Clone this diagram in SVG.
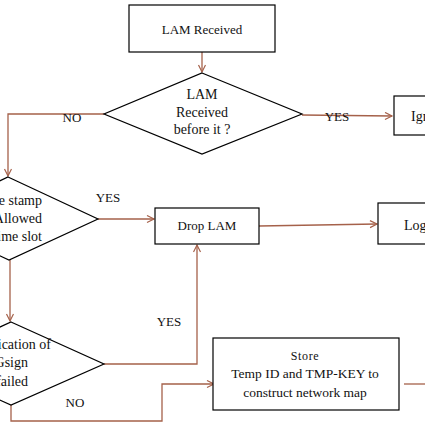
<svg xmlns="http://www.w3.org/2000/svg" width="425" height="425" viewBox="0 0 425 425">
<defs>
<style>
.box{fill:#fff;stroke:#000;stroke-width:1.2}
.dia{fill:#fff;stroke:#000;stroke-width:1.2}
.con{fill:none;stroke:#a5614a;stroke-width:1.3}
text{font-family:"Liberation Serif","DejaVu Serif",serif;font-size:13px;fill:#111}
.c{text-anchor:middle}
.e{text-anchor:end}
.d{font-size:14px}
</style>
<marker id="arr" markerWidth="10" markerHeight="10" refX="8" refY="4" orient="auto" markerUnits="userSpaceOnUse">
<path d="M1,0.5 L8,4 L1,7.5" fill="none" stroke="#a5614a" stroke-width="1.2"/>
</marker>
</defs>
<rect width="425" height="425" fill="#fff"/>
<g id="connectors">
<line class="con" x1="202" y1="52" x2="202" y2="72" marker-end="url(#arr)"/>
<line class="con" x1="302" y1="115" x2="392" y2="116" marker-end="url(#arr)"/>
<polyline class="con" points="104,114 8,114 8,176" marker-end="url(#arr)"/>
<line class="con" x1="98" y1="219" x2="154" y2="219" marker-end="url(#arr)"/>
<line class="con" x1="259" y1="226" x2="377" y2="224" marker-end="url(#arr)"/>
<line class="con" x1="10" y1="260" x2="10" y2="321" marker-end="url(#arr)"/>
<polyline class="con" points="104,364 197,364 197,245" marker-end="url(#arr)"/>
<polyline class="con" points="11,405 11,421 162,421 162,384 214,384" marker-end="url(#arr)"/>
<line class="con" x1="404" y1="384" x2="425" y2="384"/>
</g>
<g id="n-lam-received">
<rect class="box" x="129" y="5" width="146" height="47"/>
<text class="c" x="202" y="34">LAM Received</text>
</g>
<g id="n-received-before">
<polygon class="dia" points="202,73 302,114 202,154 104,114"/>
<text class="c d" x="202" y="99">LAM</text>
<text class="c d" x="202" y="117">Received</text>
<text class="c d" x="202" y="134">before it ?</text>
</g>
<g id="n-ignore">
<rect class="box" x="394" y="96" width="40" height="39"/>
<text class="d" x="411" y="121">Ignore</text>
</g>
<g id="n-timestamp">
<polygon class="dia" points="8,177 98,219 9,260 -82,219"/>
<text class="e d" x="42" y="205">Time stamp</text>
<text class="e d" x="42" y="223">Allowed</text>
<text class="e d" x="42" y="241">time slot</text>
</g>
<g id="n-drop">
<rect class="box" x="155" y="208" width="104" height="36"/>
<text class="c" x="207" y="230">Drop LAM</text>
</g>
<g id="n-log">
<rect class="box" x="378" y="203" width="60" height="41"/>
<text class="d" x="404" y="230">Log</text>
</g>
<g id="n-verify">
<polygon class="dia" points="11,322 104,364 11,405 -82,364"/>
<text class="e d" x="51" y="349">Verification of</text>
<text class="e d" x="28" y="367">Gsign</text>
<text class="e d" x="28" y="386">failed</text>
</g>
<g id="n-store">
<rect class="box" x="213" y="338" width="186" height="72"/>
<text class="c" x="305" y="360" style="font-size:12px;letter-spacing:0.6px">Store</text>
<text class="c" x="305" y="378" style="font-size:13.5px">Temp ID and TMP-KEY to</text>
<text class="c" x="305" y="397" style="font-size:13.5px">construct network map</text>
</g>
<g id="labels">
<text class="c" x="72" y="122">NO</text>
<text class="c" x="337" y="121">YES</text>
<text class="c" x="108" y="202">YES</text>
<text class="c" x="169" y="326">YES</text>
<text class="c" x="75" y="407">NO</text>
</g>
</svg>
